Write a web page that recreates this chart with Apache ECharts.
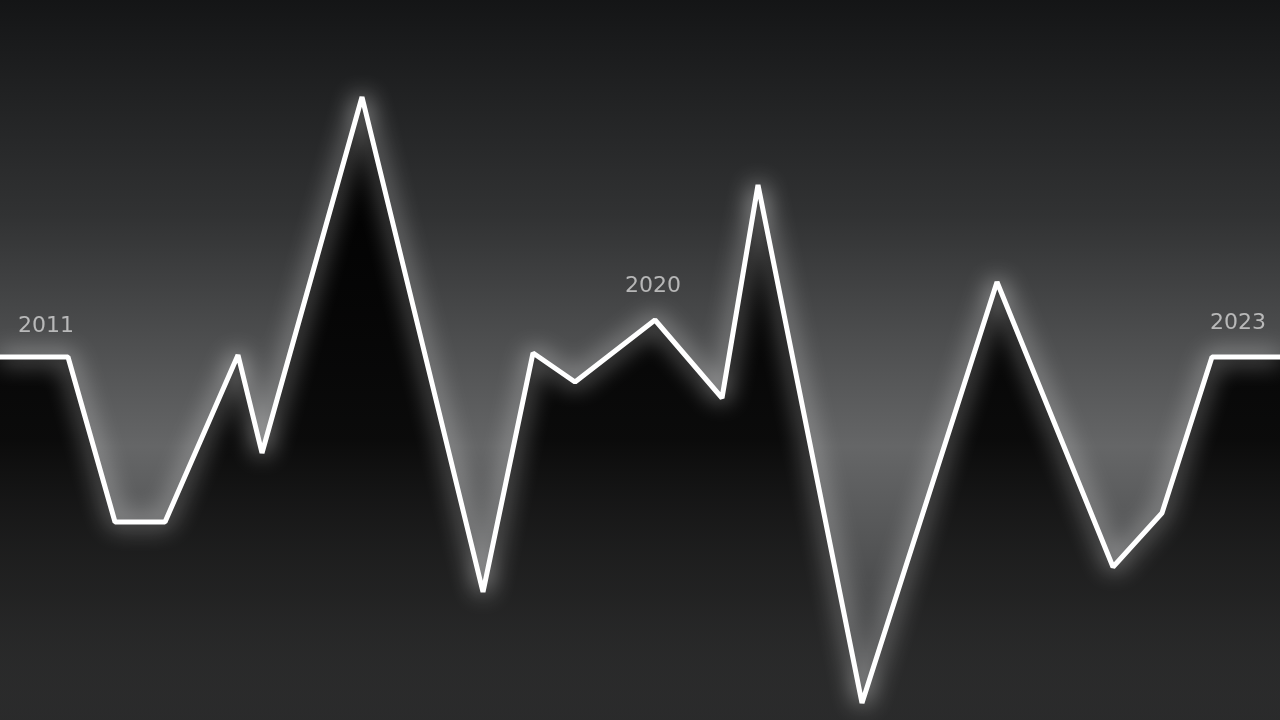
<!DOCTYPE html>
<html>
<head>
<meta charset="utf-8">
<script src="https://cdn.jsdelivr.net/npm/echarts@6/dist/echarts.min.js"></script>
<style>
html,body{margin:0;padding:0;background:#222;}
#chart{width:1280px;height:720px;}
</style>
</head>
<body>
<div id="chart"></div>
<script>
// horizontal positions of the line's vertices (axis units)
var xPositions = [0, 68, 115, 165, 238, 262, 362, 483, 533, 575, 655, 722, 758, 862, 997, 1113, 1162, 1212, 1280];
// values at each vertex
var values = [363, 363, 198, 198, 365, 267, 623, 128, 367, 338, 400, 322, 535, 17, 438, 153, 207, 363, 363];
// year labels and where they sit
var labelTexts = ['2011', '2020', '2023'];
var labelX = [46, 653, 1238];
var labelY = [394, 434, 397];

var lineData = xPositions.map(function (x, i) { return [x, values[i]]; });
var labelData = labelTexts.map(function (t, i) { return { value: [labelX[i], labelY[i]], name: t }; });

var chart = echarts.init(document.getElementById('chart'));
chart.setOption({
  animation: false,
  backgroundColor: {
    type: 'linear', x: 0, y: 0, x2: 0, y2: 1,
    colorStops: [
      { offset: 0, color: '#141516' },
      { offset: 0.3, color: '#313233' },
      { offset: 0.62, color: '#656667' },
      { offset: 0.85, color: '#48494a' },
      { offset: 1, color: '#303132' }
    ]
  },
  grid: { left: 0, right: 0, top: 0, bottom: 0 },
  xAxis: { type: 'value', min: 0, max: 1280, show: false },
  yAxis: { type: 'value', min: 0, max: 720, show: false },
  series: [
    {
      type: 'line',
      data: lineData,
      symbol: 'none',
      clip: false,
      z: 2,
      lineStyle: { color: '#ffffff', width: 5, shadowColor: 'rgba(255,255,255,1)', shadowBlur: 24 },
      areaStyle: {
        opacity: 1,
        color: {
          type: 'linear', x: 0, y: 0, x2: 0, y2: 1,
          colorStops: [
            { offset: 0, color: 'rgba(0,0,0,1)' },
            { offset: 0.55, color: 'rgba(6,6,6,0.95)' },
            { offset: 0.8, color: 'rgba(20,20,20,0.75)' },
            { offset: 1, color: 'rgba(36,36,36,0.5)' }
          ]
        }
      }
    },
    {
      type: 'scatter',
      data: labelData,
      symbolSize: 0,
      z: 3,
      label: {
        show: true,
        position: 'inside',
        formatter: function (p) { return p.name; },
        color: '#d4d4d4',
        fontSize: 22,
        fontFamily: 'DejaVu Sans'
      }
    }
  ]
});
</script>
</body>
</html>
